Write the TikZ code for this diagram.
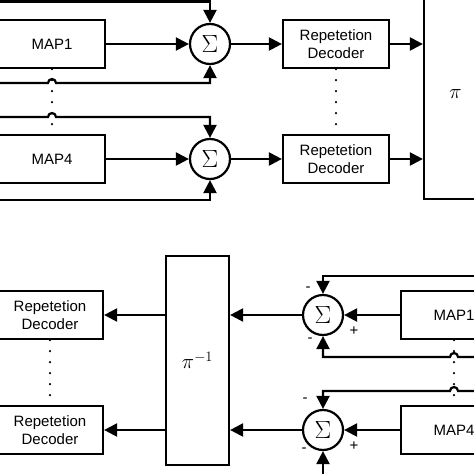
\documentclass[tikz,border=0pt]{standalone}
\usepackage{fontspec}
\setmainfont{Liberation Sans}
\usetikzlibrary{arrows.meta,calc}

\tikzset{
  blk/.style={draw, line width=2.2pt, minimum width=106pt, minimum height=48pt, inner sep=0pt, align=center, font=\fontsize{15}{17.5}\selectfont},
  perm/.style={draw, line width=2.2pt, minimum width=63pt, minimum height=209pt, inner sep=0pt, font=\fontsize{22}{22}\selectfont},
  sumnode/.style={draw, circle, line width=2.2pt, minimum size=40pt, inner sep=0pt, font=\fontsize{33}{33}\selectfont},
  wire/.style={line width=2.2pt},
  arr/.style={wire, -{Triangle[length=13pt,width=13pt]}},
  dots/.style={line width=2.4pt, line cap=round, dash pattern=on 0pt off 11pt},
  sgn/.style={font=\fontsize{15}{15}\selectfont, inner sep=0pt}
}

\begin{document}
\begin{tikzpicture}[x=1pt,y=-1pt]
\useasboundingbox (0,0) rectangle (474,474);
\clip (0,0) rectangle (474,474);

% upper half
\node[blk] (map1) at (52,44) {MAP1};
\node[blk] (map4) at (52,159) {MAP4};
\node[sumnode] (sig1) at (210,44) {$\Sigma$};
\node[sumnode] (sig4) at (210,159) {$\Sigma$};
\node[blk] (dec1) at (336,44) {Repetetion\\Decoder};
\node[blk] (dec4) at (336,159) {Repetetion\\Decoder};
\node[perm] (pi) at (455.5,94.5) {$\pi$};

\coordinate (fa1) at (0,1.5);
\coordinate (fb1) at (0,83);
\coordinate (fa4) at (0,117);
\coordinate (fb4) at (0,200);

\draw[arr] (map1) -- (sig1);
\draw[arr] (map4) -- (sig4);
\draw[arr] (sig1) -- (dec1);
\draw[arr] (sig4) -- (dec4);
\draw[arr] (dec1) -- (dec1.east -| pi.west);
\draw[arr] (dec4) -- (dec4.east -| pi.west);
\draw[arr] (fa1) -| (sig1.north);
\draw[arr] (fb1) -- ($(fb1 -| map1)+(-4pt,0)$) arc[start angle=180,end angle=0,radius=4pt] -| (sig1.south);
\draw[arr] (fa4) -- ($(fa4 -| map1)+(-4pt,0)$) arc[start angle=180,end angle=0,radius=4pt] -| (sig4.north);
\draw[arr] (fb4) -| (sig4.south);
\draw[dots] (map1.south) -- (map4.north);
\draw[dots] (dec1.south) -- (dec4.north);

% lower half
\node[blk] (mapl1) at (454,315) {MAP1};
\node[blk] (mapl4) at (454,430) {MAP4};
\node[sumnode] (sigl1) at (323,315) {$\Sigma$};
\node[sumnode] (sigl4) at (323,430) {$\Sigma$};
\node[blk] (decl1) at (50,315) {Repetetion\\Decoder};
\node[blk] (decl4) at (50,430) {Repetetion\\Decoder};
\node[perm] (pinv) at (197.5,360.5) {$\pi^{-1}$};

\coordinate (ga1) at (474,276);
\coordinate (gb1) at (474,357);
\coordinate (ga4) at (474,391);
\coordinate (gb4) at (323,474);

\draw[arr] (mapl1) -- (sigl1);
\draw[arr] (mapl4) -- (sigl4);
\draw[arr] (sigl1) -- (sigl1 -| pinv.east);
\draw[arr] (sigl4) -- (sigl4 -| pinv.east);
\draw[arr] (decl1 -| pinv.west) -- (decl1);
\draw[arr] (decl4 -| pinv.west) -- (decl4);
\draw[arr] (ga1) -| (sigl1.north);
\draw[arr] (gb1) -- ($(gb1 -| mapl1)+(4pt,0)$) arc[start angle=0,end angle=180,radius=4pt] -| (sigl1.south);
\draw[arr] (ga4) -- ($(ga4 -| mapl1)+(4pt,0)$) arc[start angle=0,end angle=180,radius=4pt] -| (sigl4.north);
\draw[arr] (gb4) -- (sigl4.south);
\draw[dots] (mapl1.south) -- (mapl4.north);
\draw[dots] (decl1.south) -- (decl4.north);

\node[sgn] (s1a) at (308,289) {-};
\node[sgn] (s1b) at (354,331) {+};
\node[sgn] (s1c) at (310,340) {-};
\node[sgn] (s4a) at (305,400) {-};
\node[sgn] (s4b) at (354,446) {+};
\node[sgn] (s4c) at (304,450) {-};
\end{tikzpicture}
\end{document}
